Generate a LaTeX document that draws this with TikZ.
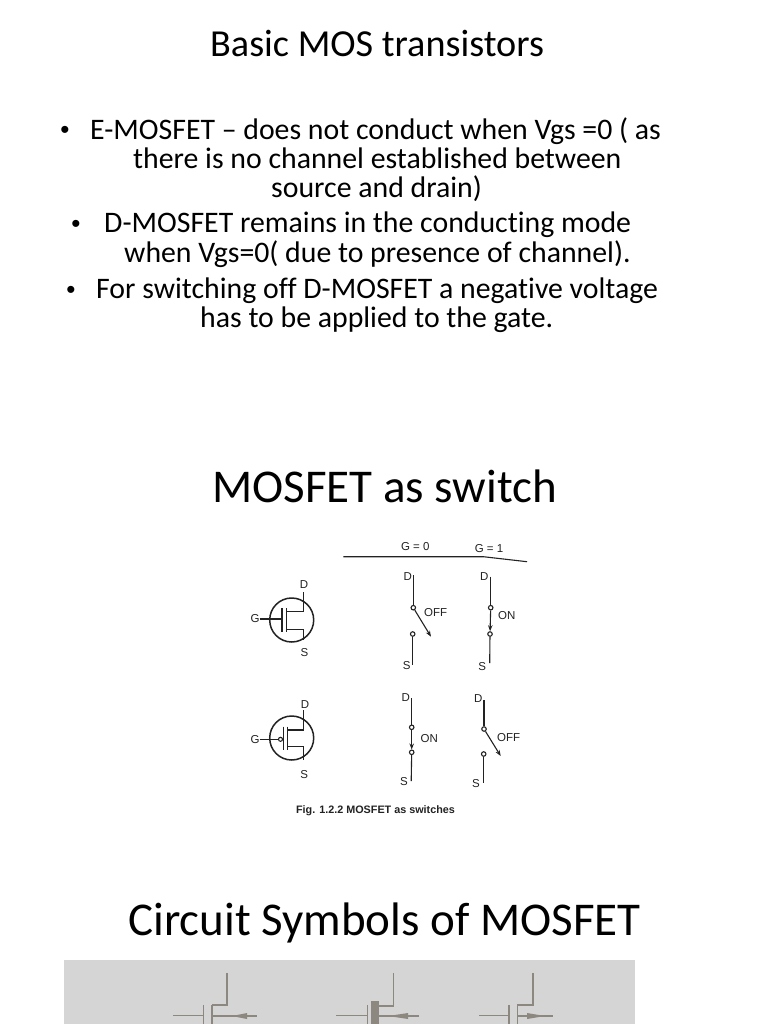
\documentclass[tikz,border=0pt]{standalone}
\usepackage{fontspec}
\setmainfont[Ligatures=NoCommon]{Carlito}
\usetikzlibrary{arrows.meta}
\definecolor{ink}{HTML}{222222}
\definecolor{panel}{HTML}{D5D5D5}
\definecolor{symb}{HTML}{8C8880}
\newcommand{\fs}[1]{\fontsize{#1}{#1}\selectfont}
\newcommand{\lab}[1]{\fontsize{11.5}{11.5}\selectfont\sffamily #1}
\setsansfont{Liberation Sans}
\tikzset{
  x=1pt,y=-1pt,
  titletext/.style={anchor=base west,inner sep=0,text=black},
  bodytext/.style={anchor=base west,inner sep=0,text=black,font=\fs{29.8}},
  bul/.style={anchor=center,inner sep=0,text=black,font=\fontsize{26}{26}\selectfont\sffamily},
  wire/.style={draw=ink,line width=1.1pt},
  pin/.style={circle,draw=ink,line width=1.1pt,fill=white,minimum size=4.5pt,inner sep=0},
  lbl/.style={inner sep=0,text=ink,font=\lab},
  ring/.style={circle,draw=ink,line width=1.5pt,minimum size=44pt,inner sep=0},
  swarrow/.style={wire,-{Stealth[length=6pt,width=4.5pt]}},
  sym/.style={draw=symb,line width=1.1pt},
  symarrow/.style={fill=symb,draw=none},
}
\begin{document}
\begin{tikzpicture}
\useasboundingbox (0,0) rectangle (768,1024);
\fill[white] (0,0) rectangle (768,1024);
% text
\node[titletext,font=\fs{38.2}] (t1) at (210,57) {Basic MOS transistors};
\node[bul] (b1) at (65,132) {•};
\node[bodytext] (l1) at (90,140) {E-MOSFET – does not conduct when Vgs =0 ( as};
\node[bodytext] (l2) at (133,169) {there is no channel established between};
\node[bodytext] (l3) at (271,198) {source and drain)};
\node[bul] (b2) at (76,226) {•};
\node[bodytext] (l4) at (104,233) {D-MOSFET remains in the conducting mode};
\node[bodytext] (l5) at (124,262) {when Vgs=0( due to presence of channel).};
\node[bul] (b3) at (71,292) {•};
\node[bodytext] (l6) at (96,298) {For switching off D-MOSFET a negative voltage};
\node[bodytext] (l7) at (200,327) {has to be applied to the gate.};
\node[titletext,font=\fs{47}] (t2) at (212,502) {MOSFET as switch};
\node[titletext,font=\fs{47}] (t3) at (128,935) {Circuit Symbols of MOSFET};
% header
\node[lbl] (g0) at (415.3,546.7) {G = 0};
\node[lbl] (g1) at (489,548.3) {G = 1};
\coordinate (ha) at (343.3,556.7);
\coordinate (hb) at (483.3,556.7);
\coordinate (hc) at (527,561.7);
\draw[wire] (ha) -- (hb) -- (hc);
% upper transistor
\node[ring] (r1) at (291.7,620) {};
\node[lbl] (g1l) at (255,619) {G};
\node[lbl] (d1l) at (304,585) {D};
\node[lbl] (s1l) at (304.5,652.7) {S};
\coordinate (g1a) at (282,619);
\coordinate (d1a) at (303.3,611.7);
\coordinate (d1b) at (286.7,611.7);
\coordinate (s1a) at (303.3,629.3);
\coordinate (s1b) at (286.7,629.3);
\draw[wire] (g1l.east) -- (g1a);
\draw[wire,line width=1.3pt] (282,608) -- (282,632);
\draw[wire,line width=1.3pt] (286.7,608) -- (286.7,632);
\draw[wire] (d1b) -- (d1a) -- (303.3,591.7);
\draw[wire] (s1b) -- (s1a) -- (303.3,640);
% switch 1
\node[lbl] (d2) at (407.7,576.7) {D};
\node[lbl] (s2) at (406.7,666) {S};
\node[lbl,anchor=west] (off1) at (424,613) {OFF};
\node[pin] (p1) at (413.3,607.7) {};
\node[pin] (p2) at (412.7,634) {};
\coordinate (a1) at (431,636.7);
\draw[wire] (413.3,575) -- (p1);
\draw[swarrow] (p1) -- (a1);
\draw[wire] (p2) -- (412.7,665);
% switch 2
\node[lbl] (d3) at (484.3,576.7) {D};
\node[lbl] (s3) at (482.3,666.7) {S};
\node[lbl,anchor=west] (on1) at (498,616) {ON};
\node[pin] (p3) at (490.7,607.7) {};
\node[pin] (p4) at (490,634) {};
\draw[wire] (490.7,576.7) -- (p3);
\draw[swarrow] (p3) -- (p4);
\draw[wire] (p4) -- (489.7,663);
% lower transistor
\node[ring] (r2) at (291.7,738) {};
\node[lbl] (g2l) at (255,739.3) {G};
\node[lbl] (d4l) at (305,705) {D};
\node[lbl] (s4l) at (304.3,774.3) {S};
\node[circle,draw=ink,line width=1.1pt,minimum size=4pt,inner sep=0] (gb) at (280.5,739.3) {};
\draw[wire] (g2l.east) -- (gb);
\draw[wire,line width=1.3pt] (283.3,726.7) -- (283.3,750);
\draw[wire,line width=1.3pt] (287.3,726.7) -- (287.3,750);
\draw[wire] (287.3,730) -- (303.3,730) -- (303.3,710);
\draw[wire] (287.3,746.7) -- (303.3,746.7) -- (303.3,760);
% switch 3
\node[lbl] (d5) at (405.7,697.3) {D};
\node[lbl] (s5) at (404,781.7) {S};
\node[lbl,anchor=west] (on2) at (420.5,738.3) {ON};
\node[pin] (p5) at (411.7,727.3) {};
\node[pin] (p6) at (411.7,752.3) {};
\draw[wire] (411.7,698.3) -- (p5);
\draw[swarrow] (p5) -- (p6);
\draw[wire] (p6) -- (411.2,781);
% switch 4
\node[lbl] (d6) at (478.3,698.3) {D};
\node[lbl] (s6) at (476,784) {S};
\node[lbl,anchor=west] (off2) at (497,737.3) {OFF};
\node[pin] (p7) at (484,729) {};
\node[pin] (p8) at (483.7,754) {};
\coordinate (a2) at (500.7,756);
\draw[wire] (484,700) -- (p7);
\draw[swarrow] (p7) -- (a2);
\draw[wire] (p8) -- (483.7,783.3);
% caption
\node[inner sep=0,text=ink,font=\fontsize{10.8}{10.8}\selectfont\sffamily\bfseries] (cap) at (375.5,810.7) {Fig. 1.2.2 MOSFET as switches};
% grey panel
\fill[panel] (64,960) rectangle (635,1024);
\begin{scope}
\clip (64,960) rectangle (635,1024);
% symbol 1
\draw[sym] (173,1015.7) -- (203.5,1015.7);
\draw[sym] (203.5,1005) -- (203.5,1024);
\draw[sym] (212,1005) -- (212,1024);
\draw[sym] (212,1005) -- (227,1005) -- (227,972.5);
\draw[sym] (212,1016) -- (257,1016);
\fill[symarrow] (232,1016) -- (247,1013) -- (247,1019) -- cycle;
% symbol 2
\draw[sym] (336,1015.7) -- (367.4,1015.7);
\draw[sym] (367.4,1005) -- (367.4,1024);
\fill[symb] (371,1001) rectangle (378.5,1024);
\draw[sym] (378.5,1006) -- (393.5,1006) -- (393.5,972.5);
\draw[sym] (378,1016) -- (418.5,1016);
\fill[symarrow] (388,1016) -- (408,1013) -- (408,1019) -- cycle;
% symbol 3
\draw[sym] (479,1015.7) -- (509,1015.7);
\draw[sym] (509,1005) -- (509,1024);
\draw[sym] (517.4,1005) -- (517.4,1024);
\draw[sym] (517.4,1005) -- (533,1005) -- (533,972.5);
\draw[sym] (517.4,1016) -- (553,1016);
\fill[symarrow] (545,1016) -- (527,1013) -- (527,1019) -- cycle;
\end{scope}
\end{tikzpicture}
\end{document}
